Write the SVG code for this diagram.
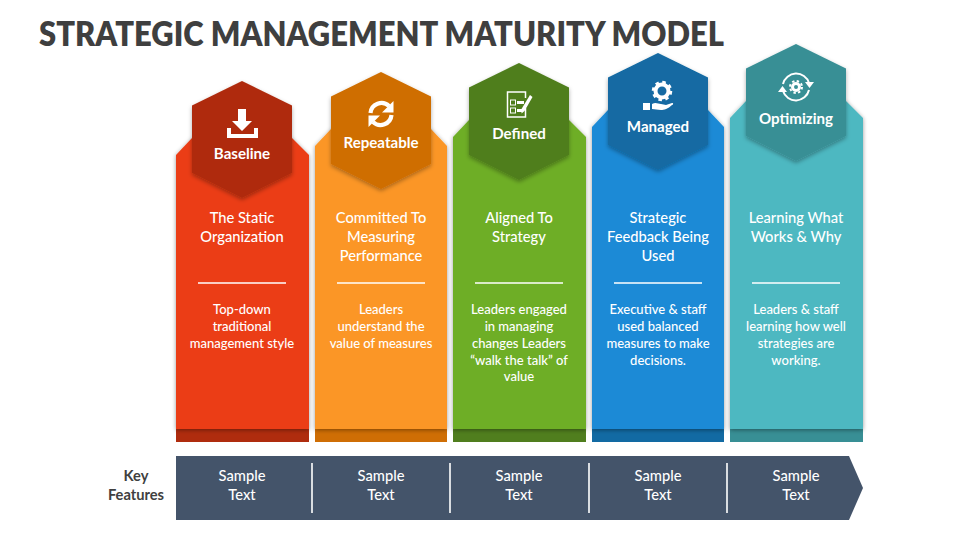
<svg xmlns="http://www.w3.org/2000/svg" width="960" height="540" viewBox="0 0 960 540">
<defs>
<style>
text{font-family:"Lato","Carlito","Open Sans",sans-serif;text-anchor:middle;fill:#fff}
.title{font-size:33.5px;font-weight:800;fill:#3f3f3f;text-anchor:start}
.lab{font-size:15.1px;font-weight:700}
.head{font-size:14.7px;font-weight:500}
.desc{font-size:13px;font-weight:500}
.bar{font-size:14.7px;font-weight:500}
.key{font-size:14.7px;font-weight:700;fill:#404040}
.rule{stroke:#fff;stroke-width:1.6;fill:none}
.ico{fill:#fff}
.icl{fill:none;stroke:#fff}
</style>
<filter id="hs" x="-20%" y="-20%" width="140%" height="140%"><feDropShadow dx="0" dy="2" stdDeviation="2" flood-color="#000" flood-opacity=".32"/></filter>
<filter id="cs" x="-10%" y="-10%" width="120%" height="120%"><feDropShadow dx="0" dy="1" stdDeviation="2" flood-color="#000" flood-opacity=".4"/></filter>
<polygon id="hex" points="0,0 50,24.500 50,92 0,117 -50,92 -50,24.500"/>
</defs>
<rect width="960" height="540" fill="#fff"/>
<text class="title" x="39" y="46" textLength="685" lengthAdjust="spacingAndGlyphs">STRATEGIC MANAGEMENT MATURITY MODEL</text>

<g id="connectors"></g>

<g id="col-baseline">
<rect x="176" y="425" width="133" height="17" fill="#af2c0e"/>
<polygon points="176,155 192,138 292,138 309,155 309,429 176,429" fill="#eb3e14" filter="url(#cs)"/>
<use href="#hex" x="242" y="81" fill="#af2c0e" filter="url(#hs)"/>
<path class="ico" d="M238,109h8v12h6l-10,10l-10,-10h6z"/>
<path class="ico" d="M227,128h4v6h23v-6h4v10h-31z"/>
<text class="lab" x="242" y="159">Baseline</text>
<text class="head" x="242" y="223">The Static</text>
<text class="head" x="242" y="242">Organization</text>
<line class="rule" x1="198" y1="283" x2="286" y2="283"/>
<text class="desc" x="242" y="314">Top-down</text>
<text class="desc" x="242" y="331">traditional</text>
<text class="desc" x="242" y="348">management style</text>
</g>

<g id="col-repeatable">
<rect x="315" y="425" width="132" height="17" fill="#cf6e05"/>
<polygon points="315,146 331,129 431,129 447,146 447,429 315,429" fill="#fb9626" filter="url(#cs)"/>
<use href="#hex" x="381" y="72" fill="#cf6e05" filter="url(#hs)"/>
<path class="icl" stroke-width="4.200" d="M370.500,113a11,11 0 0 1 18.500,-7"/>
<path class="ico" d="M393.500,101v11.500h-11.500z"/>
<path class="icl" stroke-width="4.200" d="M391.500,115a11,11 0 0 1 -18.500,7"/>
<path class="ico" d="M368.500,127v-11.500h11.500z"/>
<text class="lab" x="381" y="148">Repeatable</text>
<text class="head" x="381" y="223">Committed To</text>
<text class="head" x="381" y="242">Measuring</text>
<text class="head" x="381" y="261">Performance</text>
<line class="rule" x1="337" y1="283" x2="425" y2="283"/>
<text class="desc" x="381" y="314">Leaders</text>
<text class="desc" x="381" y="331">understand the</text>
<text class="desc" x="381" y="348">value of measures</text>
</g>

<g id="col-defined">
<rect x="453" y="425" width="133" height="17" fill="#507e1e"/>
<polygon points="453,137 469,120 569,120 586,137 586,429 453,429" fill="#6eae26" filter="url(#cs)"/>
<use href="#hex" x="519" y="63" fill="#507e1e" filter="url(#hs)"/>
<path class="icl" stroke-width="1.500" d="M525.500,108v9h-18v-25h18v6"/>
<rect class="icl" x="510.500" y="100" width="5" height="5" stroke-width="1"/>
<rect class="icl" x="510.500" y="108" width="5" height="5" stroke-width="1"/>
<rect class="ico" x="517" y="101" width="7" height="3"/>
<rect class="ico" x="517" y="109" width="5" height="3"/>
<path class="ico" d="M530,95l2.500,2l-8,14l-3,2.500l0,-4.500z"/>
<text class="lab" x="519" y="139">Defined</text>
<text class="head" x="519" y="223">Aligned To</text>
<text class="head" x="519" y="242">Strategy</text>
<line class="rule" x1="475" y1="283" x2="563" y2="283"/>
<text class="desc" x="519" y="314">Leaders engaged</text>
<text class="desc" x="519" y="331">in managing</text>
<text class="desc" x="519" y="348">changes Leaders</text>
<text class="desc" x="519" y="365">“walk the talk” of</text>
<text class="desc" x="519" y="381">value</text>
</g>

<g id="col-managed">
<rect x="592" y="425" width="132" height="17" fill="#126aa3"/>
<polygon points="592,127 608,110 708,110 724,127 724,429 592,429" fill="#1a8ad6" filter="url(#cs)"/>
<use href="#hex" x="658" y="53" fill="#126aa3" filter="url(#hs)"/>
<circle class="icl" cx="662" cy="91" r="6.500" stroke-width="4"/>
<circle class="icl" cx="662" cy="91" r="9" stroke-width="2.500" stroke-dasharray="3.500 3.570"/>
<rect class="ico" x="643" y="103" width="7" height="7"/>
<path class="ico" d="M652,104c4,-2 6,0 9,0l5,1l6,-2c2,0 1,2 0,2c-4,4 -8,5 -11,5c-4,0 -6,-1 -9,-1z"/>
<text class="lab" x="658" y="132">Managed</text>
<text class="head" x="658" y="223">Strategic</text>
<text class="head" x="658" y="242">Feedback Being</text>
<text class="head" x="658" y="261">Used</text>
<line class="rule" x1="614" y1="283" x2="702" y2="283"/>
<text class="desc" x="658" y="314">Executive &amp; staff</text>
<text class="desc" x="658" y="331">used balanced</text>
<text class="desc" x="658" y="348">measures to make</text>
<text class="desc" x="658" y="365">decisions.</text>
</g>

<g id="col-optimizing">
<rect x="730" y="425" width="133" height="17" fill="#388f95"/>
<polygon points="730,118 746,101 846,101 863,118 863,429 730,429" fill="#4eb8c1" filter="url(#cs)"/>
<use href="#hex" x="796" y="44" fill="#388f95" filter="url(#hs)"/>
<path class="icl" stroke-width="2" d="M783,84a13.500,13.500 0 0 1 26,-1"/>
<path class="ico" d="M805,82h9l-4.500,6z"/>
<path class="icl" stroke-width="2" d="M809,90a13.500,13.500 0 0 1 -26,1"/>
<path class="ico" d="M787,92h-9l4.500,-6z"/>
<circle class="icl" cx="796" cy="87" r="3.500" stroke-width="3"/>
<circle class="icl" cx="796" cy="87" r="6" stroke-width="2" stroke-dasharray="2.400 2.310"/>
<text class="lab" x="796" y="124">Optimizing</text>
<text class="head" x="796" y="223">Learning What</text>
<text class="head" x="796" y="242">Works &amp; Why</text>
<line class="rule" x1="752" y1="283" x2="840" y2="283"/>
<text class="desc" x="796" y="314">Leaders &amp; staff</text>
<text class="desc" x="796" y="331">learning how well</text>
<text class="desc" x="796" y="348">strategies are</text>
<text class="desc" x="796" y="365">working.</text>
</g>

<g id="key-features">
<text class="key" x="136" y="481">Key</text>
<text class="key" x="136" y="500">Features</text>
</g>

<g id="feature-bar">
<polygon points="176,456 849,456 863,488 849,520 176,520" fill="#44546a"/>
<line class="rule" x1="312" y1="463" x2="312" y2="513"/>
<line class="rule" x1="450" y1="463" x2="450" y2="513"/>
<line class="rule" x1="589" y1="463" x2="589" y2="513"/>
<line class="rule" x1="727" y1="463" x2="727" y2="513"/>
<text class="bar" x="242" y="481">Sample</text><text class="bar" x="242" y="500">Text</text>
<text class="bar" x="381" y="481">Sample</text><text class="bar" x="381" y="500">Text</text>
<text class="bar" x="519" y="481">Sample</text><text class="bar" x="519" y="500">Text</text>
<text class="bar" x="658" y="481">Sample</text><text class="bar" x="658" y="500">Text</text>
<text class="bar" x="796" y="481">Sample</text><text class="bar" x="796" y="500">Text</text>
</g>
</svg>
